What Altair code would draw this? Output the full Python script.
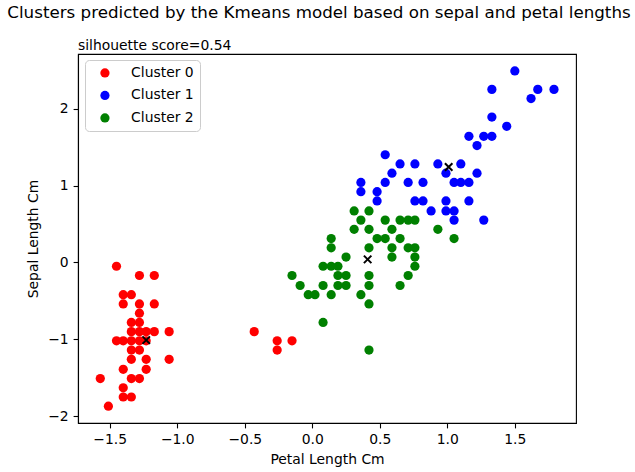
import altair as alt
import pandas as pd

TITLE = "Clusters predicted by the Kmeans model based on sepal and petal lengths"
SUBTITLE = "silhouette score=0.54"
X_LABEL = "Petal Length Cm"
Y_LABEL = "Sepal Length Cm"
CLUSTER_NAMES = ["Cluster 0", "Cluster 1", "Cluster 2"]
CLUSTER_COLORS = ["red", "blue", "green"]

# standardized petal length (x) and sepal length (y) per predicted cluster
c0_x = [-1.34, -1.34, -1.40, -1.28, -1.34, -1.17, -1.34, -1.28, -1.34, -1.28,
        -1.28, -1.23, -1.34, -1.51, -1.45, -1.28, -1.40, -1.17, -1.28, -1.57,
        -1.17, -1.06, -1.23, -1.28, -1.34, -1.23, -1.34, -1.45, -1.40, -1.40,
        -1.40, -1.40, -1.06, -1.23, -1.28, -0.26, -0.15, -0.26, -0.43]
c0_y = [-0.90, -1.14, -1.39, -1.51, -1.02, -0.54, -1.51, -1.02, -1.75, -1.14,
        -0.54, -1.26, -1.26, -1.87, -0.05, -0.17, -0.54, -0.17, -0.90, -1.51,
        -0.90, -1.26, -1.02, -0.78, -0.78, -1.39, -0.42, -1.02, -0.42, -1.75,
        -1.02, -1.63, -0.90, -0.90, -0.66, -1.14, -1.02, -1.02, -0.90]

c1_x = [0.54, 0.65, 0.48, 0.48, 0.36, 0.36, 0.59, 0.71, 0.54, 1.27,
        1.22, 1.05, 1.16, 1.62, 1.44, 1.16, 1.33, 0.76, 0.88, 0.99,
        0.99, 1.67, 1.79, 1.10, 1.10, 1.27, 1.05, 1.16, 1.33, 1.50,
        1.33, 0.99, 0.93, 1.05, 0.76, 1.22, 0.82, 0.82]
c1_y = [1.40, 1.28, 0.80, 0.92, 1.04, 0.92, 1.16, 1.04, 1.04, 0.55,
        1.52, 0.55, 0.80, 2.13, 1.77, 1.04, 1.64, 0.80, 0.67, 1.16,
        0.80, 2.25, 2.25, 1.28, 1.04, 1.64, 0.67, 1.64, 1.89, 2.49,
        2.25, 0.67, 1.28, 1.04, 1.28, 1.16, 1.04, 0.80]

c2_x = [0.14, 0.42, 0.42, 0.54, 0.08, 0.25, 0.14, 0.54, -0.09, 0.42,
        0.19, 0.42, 0.08, 0.59, 0.14, 0.65, 0.31, 0.42, -0.15, 0.02,
        -0.03, 0.08, 0.76, 0.42, 0.36, 0.19, 0.36, 0.48, 0.14, 0.25,
        0.25, 0.31, 0.19, 0.76, 0.42, 0.71, 0.71, 0.65, 0.59, 0.65,
        0.76, 1.05, 0.59, 0.71, 0.93, 0.76]
c2_y = [-0.42, 0.67, -0.17, 0.55, -0.78, 0.07, 0.19, 0.31, -0.30, -0.30,
        -0.05, 0.43, -0.30, 0.07, 0.31, 0.55, 0.67, 0.19, -0.17, -0.42,
        -0.42, -0.05, 0.19, -0.54, 0.55, -0.30, -0.42, 0.31, -0.05, -0.30,
        -0.17, 0.43, -0.17, -0.05, -1.14, -0.17, 0.19, -0.30, 0.43, 0.31,
        0.55, 0.31, 0.19, 0.55, 0.43, 0.07]

# cluster centres
centre_x = [-1.23, 1.01, 0.41]
centre_y = [-1.01, 1.24, 0.04]

X_TICKS = [-1.5, -1.0, -0.5, 0.0, 0.5, 1.0, 1.5]
Y_TICKS = [-2, -1, 0, 1, 2]
X_DOMAIN = [-1.735, 1.953]
Y_DOMAIN = [-2.088, 2.710]

points = pd.DataFrame({
    "x": c0_x + c1_x + c2_x,
    "y": c0_y + c1_y + c2_y,
    "cluster": [CLUSTER_NAMES[0]] * len(c0_x)
               + [CLUSTER_NAMES[1]] * len(c1_x)
               + [CLUSTER_NAMES[2]] * len(c2_x),
})
points["order"] = range(len(points))
centres = pd.DataFrame({"x": centre_x, "y": centre_y})

FONT = "DejaVu Sans"
FS = 13.9
MARKER = 85

x_enc = alt.X("x:Q", title=X_LABEL,
              scale=alt.Scale(domain=X_DOMAIN, nice=False, zero=False),
              axis=alt.Axis(values=X_TICKS, format=".1f"))
y_enc = alt.Y("y:Q", title=Y_LABEL,
              scale=alt.Scale(domain=Y_DOMAIN, nice=False, zero=False),
              axis=alt.Axis(values=Y_TICKS, format="d"))

scatter = alt.Chart(points).mark_circle(size=MARKER, opacity=1).encode(
    x=x_enc,
    y=y_enc,
    order=alt.Order("order:Q"),
    color=alt.Color("cluster:N",
                    scale=alt.Scale(domain=CLUSTER_NAMES, range=CLUSTER_COLORS),
                    legend=alt.Legend(title=None, orient="none",
                                      legendX=7, legendY=6,
                                      fillColor="white", strokeColor="#cccccc",
                                      cornerRadius=4, padding=6,
                                      symbolSize=MARKER, symbolOffset=7,
                                      symbolType="circle", symbolStrokeWidth=0,
                                      labelOffset=19.2, rowPadding=7.5,
                                      labelFont=FONT, labelFontSize=FS,
                                      labelColor="black")),
)

centre_marks = alt.Chart(centres).mark_point(
    shape="M-1,-1L1,1M1,-1L-1,1", size=56, filled=False,
    color="black", strokeWidth=2, opacity=1,
).encode(x="x:Q", y="y:Q")

title_mark = alt.Chart(pd.DataFrame({"t": [TITLE]})).mark_text(
    font=FONT, fontSize=16.7, color="black", align="center", baseline="alphabetic",
).encode(text="t:N", x=alt.value(241), y=alt.value(-36.2))

subtitle_mark = alt.Chart(pd.DataFrame({"t": [SUBTITLE]})).mark_text(
    font=FONT, fontSize=FS, color="black", align="left", baseline="alphabetic",
).encode(text="t:N", x=alt.value(0), y=alt.value(-4.5))

chart = alt.layer(scatter, centre_marks, title_mark, subtitle_mark).properties(
    width=498,
    height=369,
    autosize=alt.AutoSizeParams(type="none"),
    padding={"left": 78, "top": 54, "right": 59, "bottom": 49},
    background="white",
).configure_view(
    stroke="black", strokeWidth=1.1,
).configure_axis(
    grid=False,
    domainColor="black", domainWidth=1.1,
    tickColor="black", tickSize=4.9, tickWidth=1.1,
    labelFont=FONT, labelFontSize=FS, labelColor="black", labelPadding=4.9,
    titleFont=FONT, titleFontSize=FS, titleColor="black", titleFontWeight="normal",
)
chart = chart.configure_axisX(titlePadding=6).configure_axisY(titlePadding=7)

chart.save("out.html", embed_options={"renderer": "svg", "actions": False})
